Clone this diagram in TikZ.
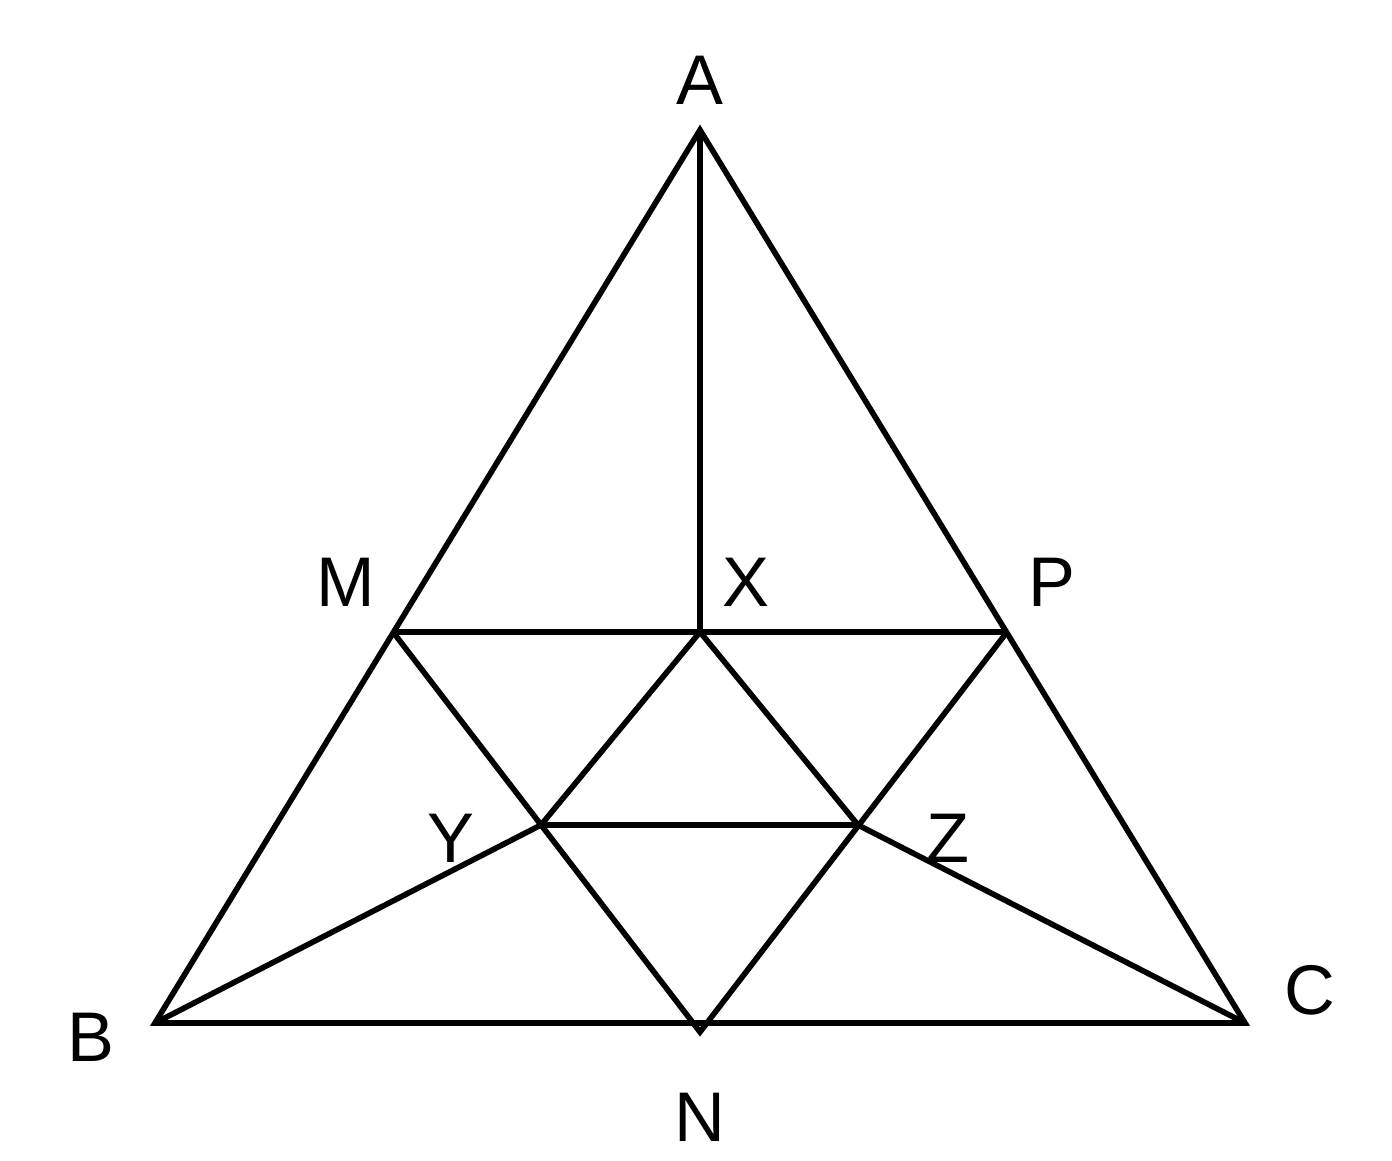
\documentclass[tikz,border=0pt]{standalone}
\usepackage{fontspec}
\setmainfont{Liberation Sans}
\usepackage{tikz}
\usetikzlibrary{calc}

\begin{document}
\begin{tikzpicture}[line width=1.6pt,line join=miter,
    lbl/.style={font=\fontsize{20}{24}\selectfont,inner sep=0pt}]
  \useasboundingbox (0,0) rectangle (13.92,11.6);

  % points
  \coordinate (A) at (7.00,10.30);
  \coordinate (B) at (1.55,1.37);
  \coordinate (C) at (12.45,1.37);
  \coordinate (M) at (3.93,5.28);
  \coordinate (X) at (7.00,5.28);
  \coordinate (P) at (10.07,5.28);
  \coordinate (Y) at (5.41,3.35);
  \coordinate (Z) at (8.58,3.35);
  \coordinate (N) at (7.00,1.28);

  % labels
  \node[lbl] (lA) at (7.00,10.80) {A};
  \node[lbl] (lM) at (3.46,5.78)  {M};
  \node[lbl] (lX) at (7.46,5.78)  {X};
  \node[lbl] (lP) at (10.52,5.78) {P};
  \node[lbl] (lY) at (4.51,3.22)  {Y};
  \node[lbl] (lZ) at (9.48,3.22)  {Z};
  \node[lbl] (lB) at (0.91,1.23)  {B};
  \node[lbl] (lC) at (13.10,1.70) {C};
  \node[lbl] (lN) at (7.00,0.43)  {N};

  \draw (B) -- (A) -- (C) -- cycle;
  \draw (A) -- (X);
  \draw (M) -- (P);
  \draw (M) -- (N) -- (P);
  \draw (Y) -- (X) -- (Z) -- cycle;
  \draw (B) -- (Y);
  \draw (C) -- (Z);
\end{tikzpicture}
\end{document}
